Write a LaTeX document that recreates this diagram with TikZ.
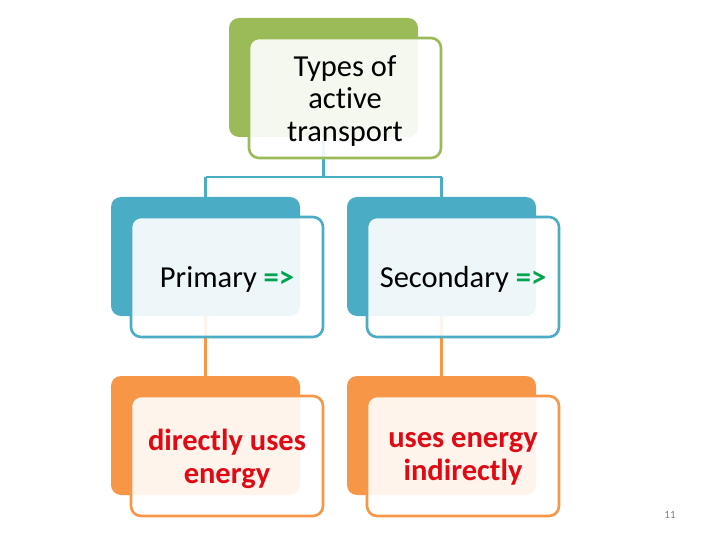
\documentclass[tikz,border=0pt]{standalone}
\usepackage{fontspec}
\setmainfont[Ligatures=NoCommon]{Carlito}
\definecolor{cgreen}{HTML}{9BBB59}
\definecolor{cblue}{HTML}{4BACC6}
\definecolor{corange}{HTML}{F79646}
\definecolor{cred}{HTML}{E00A14}
\definecolor{carrow}{HTML}{00A550}
\begin{document}
\begin{tikzpicture}[x=1pt,y=-1pt,
  backbox/.style={rounded corners=10pt, fill=#1, draw=none},
  frontbox/.style={rounded corners=10pt, draw=#1, line width=2.6pt, fill=white, fill opacity=0.9, text opacity=1},
  conn/.style={line width=2.6pt, draw=#1},
  lbl/.style={font=\fontsize{30.5}{32.5}\selectfont, align=center, text opacity=1},
  lblr/.style={font=\fontsize{30.5}{32.5}\selectfont\bfseries, align=center, text=cred}]
\useasboundingbox (0,0) rectangle (720,540);
% connectors
\coordinate (t0) at (323.5,140);
\coordinate (tj) at (323.5,177);
\coordinate (lj) at (205.5,177);
\coordinate (rj) at (441.5,177);
\draw[conn=cblue] (t0) -- (tj);
\draw[conn=cblue] (lj) -- (rj);
\draw[conn=cblue] (lj) -- (205.5,199);
\draw[conn=cblue] (rj) -- (441.5,199);
\coordinate (l1) at (205.5,316);
\coordinate (l2) at (205.5,378);
\coordinate (r1) at (441.5,316);
\coordinate (r2) at (441.5,378);
\draw[conn=corange] (l1) -- (l2);
\draw[conn=corange] (r1) -- (r2);
% top
\path[backbox=cgreen] (229,18) rectangle (418,137);
\path[frontbox=cgreen] (249,38) rectangle (441,158);
\node[lbl] (top) at (345,101) {Types of\\active\\transport};
% middle
\path[backbox=cblue] (111,197) rectangle (300,316);
\path[frontbox=cblue] (131,217) rectangle (323,337);
\node[lbl] (prim) at (227,279) {Primary \textcolor{carrow}{\textbf{=>}}};
\path[backbox=cblue] (347,197) rectangle (536,316);
\path[frontbox=cblue] (367,217) rectangle (559,337);
\node[lbl] (sec) at (463,279) {Secondary \textcolor{carrow}{\textbf{=>}}};
% bottom
\path[backbox=corange] (111,376) rectangle (300,495);
\path[frontbox=corange] (131,396) rectangle (323,516);
\node[lblr] (dir) at (227,459) {directly uses\\energy};
\path[backbox=corange] (347,376) rectangle (536,495);
\path[frontbox=corange] (367,396) rectangle (559,516);
\node[lblr] (ind) at (463,459) {uses energy\\indirectly};
\node[font=\fontsize{11}{13}\selectfont, text=gray] (pg) at (670,515) {11};
\end{tikzpicture}
\end{document}
